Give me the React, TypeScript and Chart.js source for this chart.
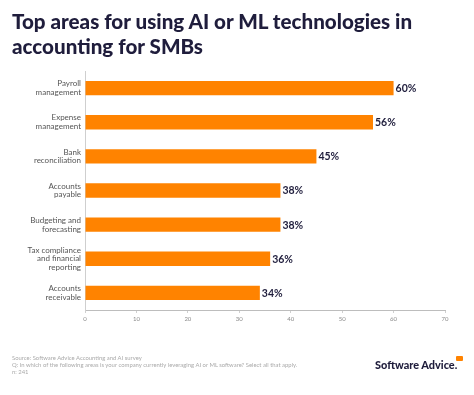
import React, { useEffect, useRef } from "react";
import { Chart, registerables } from "chart.js";

Chart.register(...registerables);

const categories: string[][] = [
  ["Payroll", "management"],
  ["Expense", "management"],
  ["Bank", "reconciliation"],
  ["Accounts", "payable"],
  ["Budgeting and", "forecasting"],
  ["Tax compliance", "and financial", "reporting"],
  ["Accounts", "receivable"],
];
const values: number[] = [60, 56, 45, 38, 38, 36, 34];
const xTicks: number[] = [0, 10, 20, 30, 40, 50, 60, 70];

const ORANGE = "#ff8300";
const NAVY = "#1f1d3c";
const FONT = "Lato, 'Open Sans', sans-serif";

const valueLabels = {
  id: "valueLabels",
  afterDatasetsDraw(chart: any) {
    const ctx = chart.ctx;
    const meta = chart.getDatasetMeta(0);
    ctx.save();
    ctx.font = `bold 10.5px ${FONT}`;
    ctx.fillStyle = NAVY;
    ctx.textAlign = "left";
    ctx.textBaseline = "middle";
    meta.data.forEach((el: any, i: number) => {
      ctx.fillText(`${values[i]}%`, el.x + 2, el.y + 0.5);
    });
    ctx.restore();
  },
};

export default function App() {
  const ref = useRef<HTMLCanvasElement | null>(null);
  useEffect(() => {
    document.body.style.margin = "0";
    if (!ref.current) return;
    const chart = new Chart(ref.current, {
      type: "bar",
      data: {
        labels: categories,
        datasets: [
          {
            data: values,
            backgroundColor: ORANGE,
            borderWidth: 0,
            categoryPercentage: 1,
            barPercentage: 0.42,
          },
        ],
      },
      options: {
        indexAxis: "y",
        animation: false,
        responsive: false,
        maintainAspectRatio: false,
        layout: { padding: { top: 71, right: 29, bottom: 65, left: 0 } },
        plugins: {
          legend: { display: false },
          tooltip: { enabled: false },
        },
        scales: {
          x: {
            min: 0,
            max: 70,
            afterBuildTicks: (scale: any) => {
              scale.ticks = xTicks.map((v) => ({ value: v }));
            },
            afterFit: (scale: any) => {
              scale.height = 20;
            },
            grid: { display: true, drawOnChartArea: false, drawTicks: true, tickLength: 3, color: "#cfcfcf" },
            border: { display: true, color: "#bdbdbd", width: 1 },
            ticks: { color: "#8a8a8a", font: { size: 6, family: FONT }, padding: 2 },
          },
          y: {
            afterFit: (scale: any) => {
              scale.width = 85;
            },
            grid: { display: false, drawTicks: false },
            border: { display: true, color: "#cfcfcf", width: 1 },
            ticks: {
              color: "#555555",
              font: { size: 8, family: FONT, lineHeight: 1.1 },
              padding: 4,
            },
          },
        },
      },
      plugins: [valueLabels],
    });
    return () => chart.destroy();
  }, []);

  return (
    <div style={{ position: "relative", width: 474, height: 395, background: "#fff", overflow: "hidden" }}>
      <canvas ref={ref} width={474} height={395} style={{ position: "absolute", left: 0, top: 0 }} />
      <div
        style={{
          position: "absolute",
          left: 12,
          top: 9,
          fontFamily: FONT,
          fontWeight: 900,
          fontSize: 20.6,
          lineHeight: "25px",
          color: NAVY,
          letterSpacing: 0,
        }}
      >
        Top areas for using AI or ML technologies in
        <br />
        accounting for SMBs
      </div>
      <div
        style={{
          position: "absolute",
          left: 12,
          top: 354,
          fontFamily: FONT,
          fontSize: 5.9,
          lineHeight: "7px",
          color: "#aaaaaa",
          whiteSpace: "nowrap",
        }}
      >
        Source: Software Advice Accounting and AI survey
        <br />
        Q: In which of the following areas is your company currently leveraging AI or ML software? Select all that apply.
        <br />
        n: 241
      </div>
      <div
        style={{
          position: "absolute",
          left: 375,
          top: 358,
          fontFamily: FONT,
          fontWeight: 900,
          fontSize: 10.9,
          color: NAVY,
          whiteSpace: "nowrap",
        }}
      >
        Software Advice.
      </div>
      <div
        style={{
          position: "absolute",
          left: 456,
          top: 356,
          width: 7,
          height: 5,
          background: ORANGE,
          borderRadius: 1,
        }}
      />
    </div>
  );
}
